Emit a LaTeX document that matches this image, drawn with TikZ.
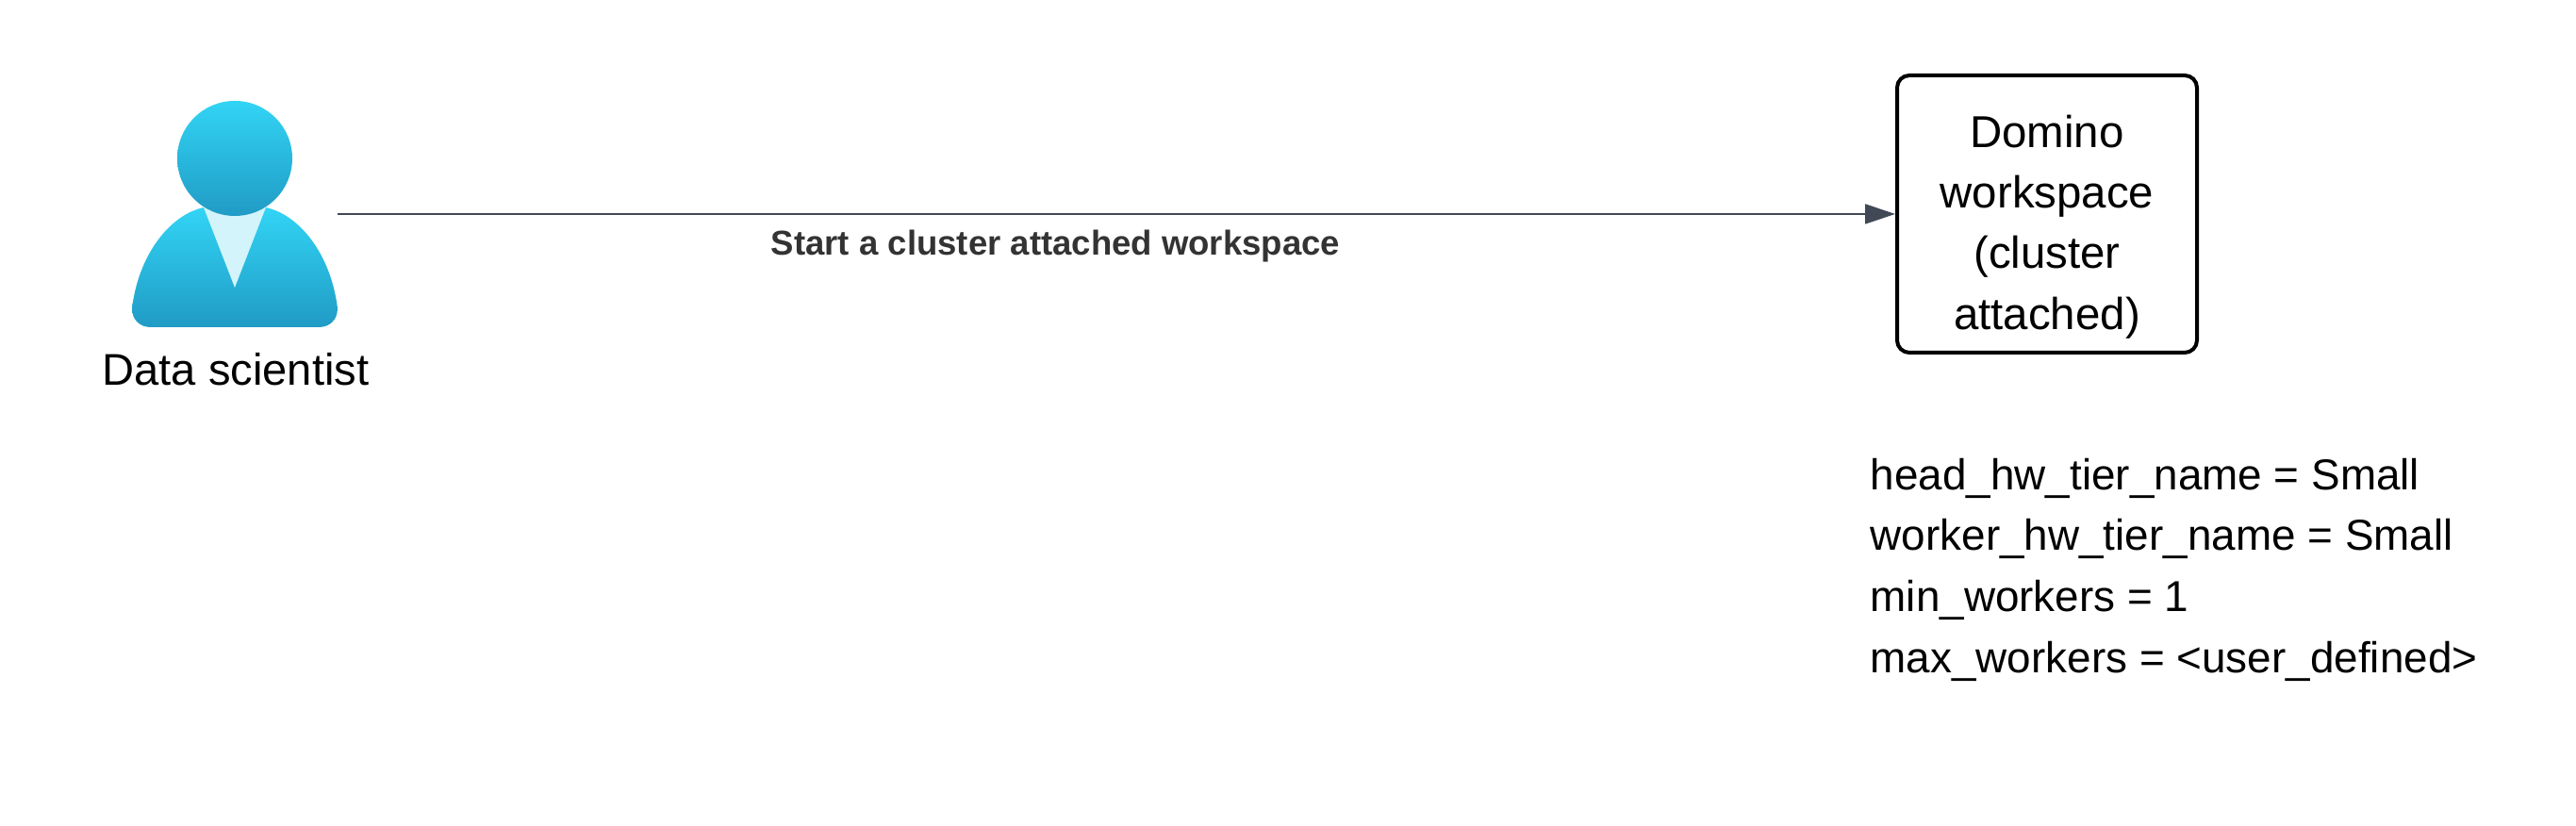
\documentclass[tikz,border=0pt]{standalone}
\usepackage{fontspec}
\setmainfont{Liberation Sans}
\usetikzlibrary{arrows.meta, positioning}
\definecolor{iconlight}{HTML}{32D4F5}
\definecolor{icondark}{HTML}{209BC5}
\definecolor{neckfill}{HTML}{D2F4FA}
\definecolor{arrowgray}{HTML}{414957}
\definecolor{labelgray}{HTML}{333333}

\begin{document}
\begin{tikzpicture}
    % Setup the styles
        \tikzset{box style/.style={draw=black,
                                   line width=0.04cm,
                                   rounded corners=0.13cm,
                                   minimum width=3.18cm,
                                   minimum height=2.94cm,
                                   inner sep=0pt,
                                   align=center,
                                   font=\fontsize{13.5}{18.3}\selectfont},
                 text style/.style={inner sep=0pt,
                                    font=\fontsize{13.4}{18.4}\selectfont},
                 list style/.style={inner sep=0pt,
                                    align=left,
                                    font=\fontsize{13.05}{18.4}\selectfont},
                 edge label/.style={inner sep=0pt,
                                    anchor=base,
                                    text=labelgray,
                                    font=\fontsize{10.4}{12}\selectfont\bfseries}}
        \useasboundingbox (0, 0) rectangle (27.32, 8.76);
        % Draw the person
        \shade[top color=iconlight, bottom color=icondark]
            (1.40, 5.49) .. controls (1.47, 6.06) and (1.80, 6.48) .. (2.16, 6.56)
            -- (2.82, 6.56) .. controls (3.18, 6.48) and (3.51, 6.06) .. (3.58, 5.49)
            .. controls (3.58, 5.37) and (3.50, 5.29) .. (3.38, 5.29)
            -- (1.60, 5.29) .. controls (1.48, 5.29) and (1.40, 5.37) .. (1.40, 5.49) -- cycle;
        \fill[neckfill] (2.16, 6.56) -- (2.82, 6.56) -- (2.49, 5.71) -- cycle;
        \shade[top color=iconlight, bottom color=icondark] (2.49, 7.08) circle (0.61);
        % Draw the nodes
        \coordinate (scientist) at (3.58, 6.49);
        \node[text style, anchor=base] at (2.50, 4.67) (scientist label) {Data scientist};
        \node[box style] at (21.71, 6.49) (workspace) {\rule{0pt}{0.61cm}Domino\\workspace\\(cluster\\attached)};
        \node[list style, anchor=west] at (19.83, 2.72) (settings)
            {head\_hw\_tier\_name = Small\\
             worker\_hw\_tier\_name = Small\\
             min\_workers = 1\\
             max\_workers = <user\_defined>};
        \node[edge label] at (11.195, 6.05) (start label) {Start a cluster attached workspace};
        % Connect them
        \draw[line width=0.02cm,
              draw=arrowgray,
              -{Triangle[length=0.32cm, width=0.21cm, fill=arrowgray]}]
        (scientist) -- (workspace);
\end{tikzpicture}
\end{document}
